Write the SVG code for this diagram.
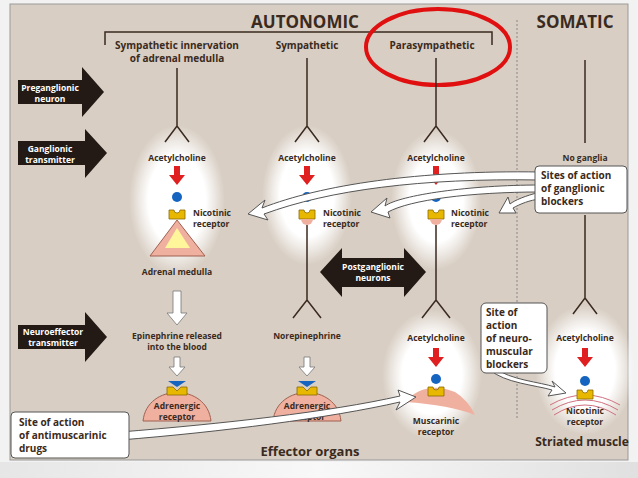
<svg xmlns="http://www.w3.org/2000/svg" width="638" height="478" viewBox="0 0 638 478">
<defs>
<radialGradient id="glow"><stop offset="0.6" stop-color="#fff"/><stop offset="1" stop-color="#fff" stop-opacity="0"/></radialGradient>
<linearGradient id="bot" x1="0" x2="1"><stop offset="0" stop-color="#e6e6e6"/><stop offset="0.5" stop-color="#f8f8f8"/><stop offset="1" stop-color="#e0e0e0"/></linearGradient>
<g id="rec"><path d="M-8,0 h5 a3,3 0 0 0 6,0 h5 v9 h-16z" fill="#e8b800" stroke="#8a6a00" stroke-width="0.8"/></g>
<g id="red"><path d="M-3,0 h6 v9 h5 l-8,10 l-8,-10 h5z" fill="#e02020"/></g>
<g id="warr"><path d="M-4,0 h8 v22 h6 l-10,12 l-10,-12 h6z" fill="#fff" stroke="#777" stroke-width="0.8"/></g>
<g id="warrs"><path d="M-3,0 h6 v10 h5 l-8,9 l-8,-9 h5z" fill="#fff" stroke="#777" stroke-width="0.8"/></g>
<g id="adr"><path d="M-34,34 C-30,-4 30,-4 34,34z" fill="#f0b0a0" stroke="#a06050"/><path d="M-10,0 h6 l4,4 l4,-4 h6 v8 h-20z" fill="#e8b800" stroke="#8a6a00" stroke-width="0.8"/><path d="M-9,-6 h18 l-9,6z" fill="#1565c0"/></g>
</defs>
<style>
text{font-family:"Open Sans","Liberation Sans",sans-serif;font-weight:bold;fill:#3a2a20;text-anchor:middle}
.s{font-size:8.5px}
.h{font-size:10px}
.w{fill:#fff;font-size:8.5px}
.l{text-anchor:start}
.ln{stroke:#3a2a20;stroke-width:1.5;fill:none}
.call{fill:#fff;stroke:#555;stroke-width:1}
</style>
<rect width="638" height="478" fill="#f2f2f2"/>
<rect x="0" y="462" width="638" height="16" fill="url(#bot)"/>
<rect x="10" y="4" width="618" height="456" fill="#d8cec3" stroke="#999"/>
<line x1="517" y1="20" x2="517" y2="420" stroke="#888" stroke-dasharray="2,2"/>
<g id="glows">
<ellipse cx="177" cy="200" rx="48" ry="75" fill="url(#glow)"/>
<ellipse cx="307" cy="195" rx="45" ry="70" fill="url(#glow)"/>
<ellipse cx="436" cy="200" rx="45" ry="70" fill="url(#glow)"/>
<ellipse cx="432" cy="375" rx="50" ry="65" fill="url(#glow)"/>
<ellipse cx="585" cy="370" rx="50" ry="65" fill="url(#glow)"/>
</g>
<g id="titles">
<text x="305" y="28" style="font-size:17px">AUTONOMIC</text>
<text x="575" y="28" style="font-size:17px">SOMATIC</text>
<path class="ln" d="M105,45 V32 H492 V45"/>
<text class="h" x="177" y="49">Sympathetic innervation</text>
<text class="h" x="177" y="62">of adrenal medulla</text>
<text class="h" x="307" y="49">Sympathetic</text>
<text class="h" x="432" y="49">Parasympathetic</text>
<ellipse cx="438" cy="47" rx="72" ry="38" fill="none" stroke="#e01010" stroke-width="4"/>
</g>
<g id="left-arrows">
<path d="M18,80 H82 V67 L104,92 L82,117 V104 H18z" fill="#231a15"/>
<text class="w" x="50" y="91">Preganglionic</text><text class="w" x="50" y="102">neuron</text>
<path d="M18,141 H85 V129 L107,153 L85,178 V165 H18z" fill="#231a15"/>
<text class="w" x="50" y="152">Ganglionic</text><text class="w" x="50" y="163">transmitter</text>
<path d="M18,325 H85 V312 L107,337 L85,362 V349 H18z" fill="#231a15"/>
<text class="w" x="53" y="335">Neuroeffector</text><text class="w" x="53" y="346">transmitter</text>
</g>
<g id="neurons">
<path class="ln" d="M177,68 V126 M165,142 L177,126 L189,142"/>
<path class="ln" d="M307,58 V126 M295,142 L307,126 L319,142"/>
<path class="ln" d="M436,58 V126 M424,142 L436,126 L448,142"/>
<path class="ln" d="M585,60 V143"/>
<path class="ln" d="M307,225 V300 M293,318 L307,300 L321,318"/>
<path class="ln" d="M436,225 V300 M422,318 L436,300 L450,318"/>
<path class="ln" d="M585,215 V298 M573,314 L585,298 L597,314"/>
</g>
<g id="col1">
<text class="s" x="177" y="161">Acetylcholine</text>
<use href="#red" x="177" y="166"/>
<circle cx="177" cy="197" r="5" fill="#1565c0"/>
<use href="#rec" x="177" y="210"/>
<path d="M150,256 L177,220 L205,256z" fill="#f0b0a0" stroke="#a06050"/>
<path d="M165,248 L177,228 L190,248z" fill="#fff59a"/>
<text class="s l" x="193" y="216">Nicotinic</text><text class="s l" x="193" y="227">receptor</text>
<text class="s" x="177" y="275">Adrenal medulla</text>
<use href="#warr" x="177" y="291"/>
<text class="s" x="177" y="339">Epinephrine released</text><text class="s" x="177" y="350">into the blood</text>
<use href="#warrs" x="177" y="357"/>
<use href="#adr" x="177" y="387"/>
<text class="s" x="177" y="409">Adrenergic</text><text class="s" x="177" y="420">receptor</text>
</g>
<g id="col2">
<text class="s" x="307" y="161">Acetylcholine</text>
<use href="#red" x="307" y="166"/>
<circle cx="307" cy="197" r="5" fill="#1565c0"/>
<use href="#rec" x="307" y="210"/>
<path d="M301,219 h12 a6,6 0 0 1 -12,0z" fill="#f0b0a0"/>
<text class="s l" x="323" y="216">Nicotinic</text><text class="s l" x="323" y="227">receptor</text>
<text class="s" x="307" y="339">Norepinephrine</text>
<use href="#warrs" x="307" y="357"/>
<use href="#adr" x="307" y="387"/>
<text class="s" x="307" y="409">Adrenergic</text><text class="s" x="307" y="420">receptor</text>
</g>
<g id="col3">
<text class="s" x="436" y="161">Acetylcholine</text>
<use href="#red" x="436" y="166"/>
<circle cx="436" cy="197" r="5" fill="#1565c0"/>
<use href="#rec" x="436" y="210"/>
<path d="M430,219 h12 a6,6 0 0 1 -12,0z" fill="#f0b0a0"/>
<text class="s l" x="451" y="216">Nicotinic</text><text class="s l" x="451" y="227">receptor</text>
<text class="s" x="436" y="341">Acetylcholine</text>
<use href="#red" x="436" y="348"/>
<circle cx="436" cy="379" r="5" fill="#1565c0"/>
<path d="M405,402 Q425,380 455,392 Q468,400 475,415 Q450,405 405,402z" fill="#f0b0a0"/>
<use href="#rec" x="436" y="387"/>
<text class="s" x="436" y="424">Muscarinic</text><text class="s" x="436" y="435">receptor</text>
</g>
<g id="col4">
<text class="s" x="585" y="161">No ganglia</text>
<text class="s" x="585" y="341">Acetylcholine</text>
<use href="#red" x="585" y="348"/>
<circle cx="585" cy="381" r="5" fill="#1565c0"/>
<path d="M550,405 Q585,385 620,405 M552,410 Q585,390 618,410 M554,415 Q585,395 616,415" stroke="#d07080" fill="none"/>
<use href="#rec" x="585" y="390"/>
<text class="s" x="585" y="414">Nicotinic</text><text class="s" x="585" y="425">receptor</text>
<text x="582" y="446" style="font-size:12px">Striated muscle</text>
</g>
<g id="postganglionic">
<path d="M320,272 L342,248 V258 H404 V248 L426,272 L404,297 V287 H342 V297z" fill="#231a15"/>
<text class="w" x="373" y="270">Postganglionic</text><text class="w" x="373" y="281">neurons</text>
</g>
<g id="connectors">
<path d="M540,172 C420,170 320,185 262,208 L265,200 L248,214 L268,220 L264,214 C330,190 420,178 540,180z" class="call"/>
<path d="M540,185 C470,185 400,195 385,206 L387,198 L371,212 L390,218 L388,212 C410,200 470,192 540,192z" class="call"/>
<path d="M540,192 C525,196 515,200 510,204 L508,197 L499,213 L516,213 L513,208 C520,204 530,200 540,199z" class="call"/>
<path d="M495,368 C510,380 540,382 555,387 L552,381 L566,393 L548,396 L552,390 C535,385 505,383 490,370z" class="call"/>
<path d="M120,440 C220,432 330,418 400,402 L396,410 L416,397 L398,390 L400,396 C330,412 220,424 120,432z" class="call"/>
</g>
<g id="callouts">
<rect x="535" y="166" width="92" height="47" rx="4" class="call"/>
<text class="h l" x="541" y="179">Sites of action</text><text class="h l" x="541" y="192">of ganglionic</text><text class="h l" x="541" y="205">blockers</text>
<rect x="481" y="303" width="66" height="70" rx="5" class="call"/>
<text class="h l" x="486" y="316">Site of</text><text class="h l" x="486" y="329">action</text><text class="h l" x="486" y="342">of neuro-</text><text class="h l" x="486" y="355">muscular</text><text class="h l" x="486" y="368">blockers</text>
<rect x="11" y="412" width="118" height="46" rx="4" class="call"/>
<text class="h l" x="19" y="426">Site of action</text><text class="h l" x="19" y="439">of antimuscarinic</text><text class="h l" x="19" y="452">drugs</text>
</g>
<text x="310" y="456" style="font-size:13px">Effector organs</text>
</svg>
